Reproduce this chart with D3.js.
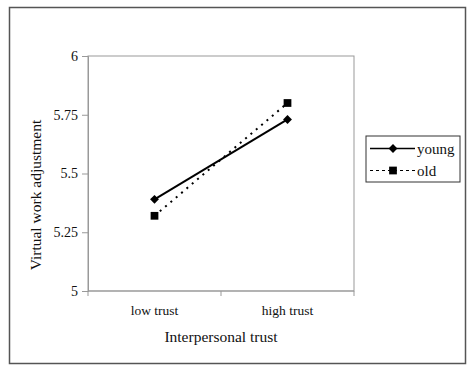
<html>
<script src="https://d3js.org/d3.v7.min.js"></script>
<style>
    body { margin: 0; background: #fff; }
    text { font-family: "Liberation Serif", "Times New Roman", serif; fill: #111; }
</style>

<body>
    <script>
        var width = 474;
        var height = 371;

        var categories = ["low trust", "high trust"];
        var young = [5.39, 5.73];
        var old = [5.32, 5.80];
        var yTicks = [5, 5.25, 5.5, 5.75, 6];
        var yTickLabels = ["5", "5.25", "5.5", "5.75", "6"];

        var svg = d3.select("body").append("svg")
            .attr("width", width)
            .attr("height", height);

        // outer chart frame
        svg.append("rect")
            .attr("x", 9.5).attr("y", 7.5)
            .attr("width", 456).attr("height", 356)
            .attr("fill", "white")
            .attr("stroke", "#555")
            .attr("stroke-width", 1.5);

        var plot = { left: 88, top: 56, right: 354, bottom: 291 };

        var x = d3.scaleBand().domain(categories).range([plot.left, plot.right]);
        var y = d3.scaleLinear().domain([5, 6]).range([plot.bottom, plot.top]);

        // plot area border
        svg.append("rect")
            .attr("x", plot.left).attr("y", plot.top)
            .attr("width", plot.right - plot.left).attr("height", plot.bottom - plot.top)
            .attr("fill", "none")
            .attr("stroke", "#999")
            .attr("stroke-width", 1);

        var yAxis = d3.axisLeft(y).tickValues(yTicks)
            .tickFormat((d, i) => yTickLabels[i]).tickSize(6).tickPadding(4);
        var gy = svg.append("g").attr("transform", `translate(${plot.left},0)`).call(yAxis);
        gy.select(".domain").attr("stroke", "#999");
        gy.selectAll(".tick line").attr("stroke", "#999");
        gy.selectAll("text").style("font-size", "14px").attr("fill", "#111");

        // x axis: ticks at category boundaries
        var gx = svg.append("g").attr("transform", `translate(0,${plot.bottom})`);
        gx.append("line").attr("x1", plot.left).attr("x2", plot.right)
            .attr("stroke", "#999");
        var bounds = [plot.left, plot.left + x.bandwidth(), plot.right];
        gx.selectAll(".xt").data(bounds).enter().append("line")
            .attr("x1", d => d).attr("x2", d => d)
            .attr("y1", 0).attr("y2", 5)
            .attr("stroke", "#999");
        gx.selectAll(".xl").data(categories).enter().append("text")
            .attr("x", d => x(d) + x.bandwidth() / 2)
            .attr("y", 24)
            .attr("text-anchor", "middle")
            .style("font-size", "13.5px")
            .text(d => d);

        // axis titles
        svg.append("text")
            .attr("x", (plot.left + plot.right) / 2)
            .attr("y", 342)
            .attr("text-anchor", "middle")
            .style("font-size", "15.5px")
            .text("Interpersonal trust");

        svg.append("text")
            .attr("transform", "translate(41,195) rotate(-90)")
            .attr("text-anchor", "middle")
            .style("font-size", "15.5px")
            .text("Virtual work adjustment");

        var cx = d => x(d) + x.bandwidth() / 2;
        var line = d3.line().x(d => cx(d.cat)).y(d => y(d.v));

        var series = [
            { name: "young", values: young, dash: null, marker: "diamond" },
            { name: "old", values: old, dash: "2,5", marker: "square" }
        ];

        series.forEach(s => {
            var pts = categories.map((c, i) => ({ cat: c, v: s.values[i] }));
            svg.append("path")
                .datum(pts)
                .attr("d", line)
                .attr("fill", "none")
                .attr("stroke", "black")
                .attr("stroke-width", 2)
                .attr("stroke-dasharray", s.dash);
            svg.selectAll(".m-" + s.name).data(pts).enter().append("path")
                .attr("transform", d => `translate(${cx(d.cat)},${y(d.v)})`)
                .attr("d", s.marker == "diamond"
                    ? d3.symbol().type(d3.symbolDiamond2).size(50)()
                    : d3.symbol().type(d3.symbolSquare).size(60)())
                .attr("fill", "black");
        });

        // legend
        var lg = svg.append("g");
        lg.append("rect")
            .attr("x", 366).attr("y", 136)
            .attr("width", 94).attr("height", 46)
            .attr("fill", "white")
            .attr("stroke", "#333")
            .attr("stroke-width", 1);
        series.forEach((s, i) => {
            var ly = 148.5 + i * 22;
            lg.append("line")
                .attr("x1", 370).attr("x2", 415)
                .attr("y1", ly).attr("y2", ly)
                .attr("stroke", "black")
                .attr("stroke-width", s.dash ? 1.2 : 1.5)
                .attr("stroke-dasharray", s.dash ? "3,3" : null);
            lg.append("path")
                .attr("transform", `translate(393,${ly})`)
                .attr("d", s.marker == "diamond"
                    ? d3.symbol().type(d3.symbolDiamond2).size(50)()
                    : d3.symbol().type(d3.symbolSquare).size(60)())
                .attr("fill", "black");
            lg.append("text")
                .attr("x", 417).attr("y", ly + 5)
                .style("font-size", "15px")
                .text(s.name);
        });
    </script>
</body>

</html>
